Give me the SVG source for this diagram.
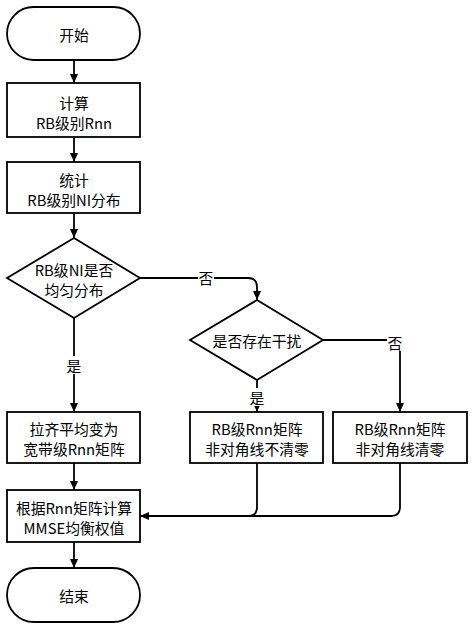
<svg xmlns="http://www.w3.org/2000/svg" width="474" height="629" viewBox="0 0 474 629">
<style>
.n{fill:#fff;stroke:#000;stroke-width:1.8}
.t{font-family:"Noto Sans CJK SC","Liberation Sans",sans-serif;font-size:14.8px;fill:#000;text-anchor:middle;dominant-baseline:central}
.c{fill:none;stroke:#000;stroke-width:1.8}
.lb{fill:#fff}
</style>
<defs>
<marker id="a" markerWidth="10" markerHeight="10" refX="9" refY="5" orient="auto" markerUnits="userSpaceOnUse">
<path d="M0,1 L9,5 L0,9 Z" fill="#000"/>
</marker>
</defs>
<rect width="474" height="629" fill="#fff"/>
<g id="connectors">
<path class="c" d="M74,60 V83" marker-end="url(#a)"/>
<path class="c" d="M74,137 V162" marker-end="url(#a)"/>
<path class="c" d="M74,213 V238" marker-end="url(#a)"/>
<path class="c" d="M74,318 V412" marker-end="url(#a)"/>
<path class="c" d="M74,463 V490" marker-end="url(#a)"/>
<path class="c" d="M74,542 V568" marker-end="url(#a)"/>
<path class="c" d="M140,278 H248 Q257,278 257,287 V300" marker-end="url(#a)"/>
<path class="c" d="M257,380 V412" marker-end="url(#a)"/>
<path class="c" d="M323,340 H400 V412" marker-end="url(#a)"/>
<path class="c" d="M257,463 V507 Q257,516 248,516"/>
<path class="c" d="M400,463 V507 Q400,516 391,516 H140" marker-end="url(#a)"/>
<rect class="lb" x="198" y="268" width="16" height="18"/>
<text class="t" x="206" y="277">否</text>
<rect class="lb" x="66" y="356" width="16" height="18"/>
<text class="t" x="74" y="365">是</text>
<rect class="lb" x="249" y="388" width="16" height="18"/>
<text class="t" x="257" y="397">是</text>
<rect class="lb" x="387" y="333" width="16" height="18"/>
<text class="t" x="395" y="342">否</text>
</g>
<g id="start">
<rect class="n" x="7" y="7" width="133" height="53" rx="26.5"/>
<text class="t" x="74" y="34">开始</text>
</g>
<g id="calc">
<rect class="n" x="7" y="83" width="133" height="54"/>
<text class="t" x="74" y="102">计算</text>
<text class="t" x="74" y="122">RB级别Rnn</text>
</g>
<g id="stat">
<rect class="n" x="7" y="162" width="133" height="51"/>
<text class="t" x="74" y="179">统计</text>
<text class="t" x="74" y="199">RB级别NI分布</text>
</g>
<g id="dec1">
<polygon class="n" points="74,238 140,278 74,318 7,278"/>
<text class="t" x="74" y="269">RB级NI是否</text>
<text class="t" x="74" y="289">均匀分布</text>
</g>
<g id="dec2">
<polygon class="n" points="257,300 323,340 257,380 190,340"/>
<text class="t" x="257" y="340">是否存在干扰</text>
</g>
<g id="boxA">
<rect class="n" x="7" y="412" width="133" height="51"/>
<text class="t" x="74" y="428">拉齐平均变为</text>
<text class="t" x="74" y="448">宽带级Rnn矩阵</text>
</g>
<g id="boxB">
<rect class="n" x="190" y="412" width="133" height="51"/>
<text class="t" x="257" y="428">RB级Rnn矩阵</text>
<text class="t" x="257" y="448">非对角线不清零</text>
</g>
<g id="boxC">
<rect class="n" x="333" y="412" width="134" height="51"/>
<text class="t" x="400" y="428">RB级Rnn矩阵</text>
<text class="t" x="400" y="448">非对角线清零</text>
</g>
<g id="mmse">
<rect class="n" x="7" y="490" width="133" height="52"/>
<text class="t" x="74" y="507">根据Rnn矩阵计算</text>
<text class="t" x="74" y="527">MMSE均衡权值</text>
</g>
<g id="end">
<rect class="n" x="7" y="568" width="133" height="54" rx="27"/>
<text class="t" x="74" y="595">结束</text>
</g>
</svg>
